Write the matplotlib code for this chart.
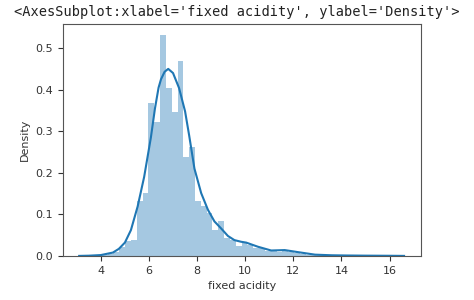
import numpy as np
import matplotlib
matplotlib.use("Agg")
import matplotlib.pyplot as plt

# Histogram: 50 equal bins from 3.8 to 15.9 (density values)
bin_lo, bin_hi, n_bins = 3.8, 15.9, 50
hist_density = [0.002, 0.002, 0.004, 0.010, 0.022, 0.035, 0.038, 0.133, 0.152, 0.368,
                0.323, 0.531, 0.405, 0.347, 0.469, 0.239, 0.261, 0.131, 0.120, 0.104,
                0.062, 0.083, 0.044, 0.038, 0.024, 0.030, 0.026, 0.020, 0.018, 0.012,
                0.011, 0.010, 0.011, 0.009, 0.006, 0.005, 0.003, 0.003, 0.002, 0.002,
                0.001, 0.001, 0.0005, 0.0005, 0.0005, 0.0, 0.0005, 0.0, 0.0, 0.001]

# KDE curve points
kde_x = [3.1, 3.5, 4.0, 4.5, 4.75, 5.0, 5.25, 5.53, 5.8, 6.08, 6.25, 6.4, 6.5, 6.65,
         6.8, 7.0, 7.25, 7.5, 7.67, 7.89, 8.17, 8.45, 8.72, 9.0, 9.28, 9.55, 9.83,
         10.04, 10.53, 11.08, 11.64, 12.2, 12.9, 13.6, 14.2, 15.0, 16.0, 16.6]
kde_y = [0.0, 0.0005, 0.002, 0.008, 0.017, 0.032, 0.062, 0.119, 0.19, 0.285, 0.355, 0.405,
         0.425, 0.443, 0.450, 0.440, 0.404, 0.348, 0.29, 0.21, 0.151, 0.111, 0.083, 0.066,
         0.048, 0.038, 0.034, 0.032, 0.022, 0.013, 0.014, 0.009, 0.003, 0.0015, 0.001,
         0.0006, 0.0003, 0.0]

x_ticks = [4, 6, 8, 10, 12, 14, 16]
y_ticks = [0.0, 0.1, 0.2, 0.3, 0.4, 0.5]

edges = np.linspace(bin_lo, bin_hi, n_bins + 1)

fig = plt.figure(figsize=(4.74, 3.0), dpi=100)
ax = fig.add_axes([0.133, 0.147, 0.755, 0.773])

color = "#1f77b4"
ax.bar(edges[:-1], hist_density, width=np.diff(edges), align="edge",
       color=color, alpha=0.4, linewidth=0)
ax.plot(kde_x, kde_y, color=color, linewidth=1.5)

ax.set_xticks(x_ticks)
ax.set_yticks(y_ticks)
ax.set_xlim(2.43, 17.3)
ax.set_ylim(0, 0.558)
ax.tick_params(labelsize=8, colors="#333333", length=3.5)
for s in ax.spines.values():
    s.set_color("#555555")
ax.set_xlabel("fixed acidity", fontsize=8, color="#333333")
ax.set_ylabel("Density", fontsize=8, color="#333333")

fig.text(0.5, 0.96, "<AxesSubplot:xlabel='fixed acidity', ylabel='Density'>",
         family="DejaVu Sans Mono", fontsize=9.8, color="#222222",
         ha="center", va="center")

fig.savefig("out.png", dpi=100)
